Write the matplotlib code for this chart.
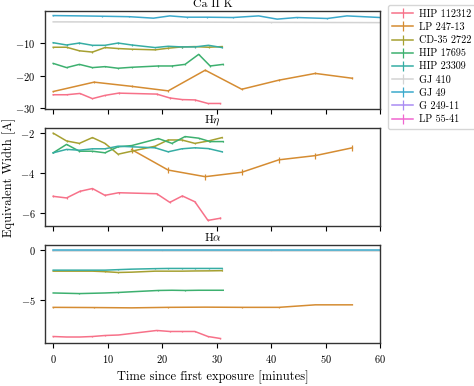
import numpy as np
import matplotlib
matplotlib.use('Agg')
import matplotlib.pyplot as plt

nan = np.nan

stars = ["HIP 112312", "LP 247-13", "CD-35 2722", "HIP 17695", "HIP 23309",
         "GJ 410", "GJ 49", "G 249-11", "LP 55-41"]
colors = ["#f77189", "#d58c32", "#a6a031", "#3db06f", "#36ada4",
          "#d3d3d3", "#3ba9cc", "#a98cf2", "#f066d0"]
lines = ["Ca II K", r"H$\eta$", r"H$\alpha$"]
yticks = [[-30, -20, -10], [-6, -4, -2], [-5, 0]]

# HIP 112312
t_hip112312 = [0, 2.45, 4.9, 7.2, 9.5, 12, 19, 21.4, 23.7, 26, 28.4, 30.7]
cak_hip112312 = [-25.9, -25.9, -25.5, -27.1, -26.1, -25.4, -25.7, -26.9, -27.4, -27.5, -28.6, -28.6]
heta_hip112312 = [-5.15, -5.23, -4.90, -4.76, -5.10, -4.97, -5.02, -5.45, -5.13, -5.42, -6.35, -6.24]
halpha_hip112312 = [-8.6, -8.65, -8.65, -8.6, -8.5, -8.45, -8.0, -8.1, -8.1, -8.1, -8.6, -8.8]

# LP 247-13
t_lp24713 = [0, 7.5, 14.4, 21.1, 27.9, 34.6, 41.4, 48.1, 54.9]
cak_lp24713 = [-24.9, -22.0, -23.3, -24.7, -18.3, -24.2, -21.4, -19.3, -20.8]
heta_lp24713 = [nan, nan, -2.82, -3.84, -4.17, -3.95, -3.33, -3.12, -2.73]
halpha_lp24713 = [-5.7, -5.72, -5.75, -5.7, -5.68, -5.7, -5.7, -5.45, -5.45]

# CD-35 2722
t_cd352722 = [0, 2.45, 4.8, 7.2, 9.5, 11.9, 14.4, 18.7, 21.1, 23.6, 26, 28.5, 31]
cak_cd352722 = [-11.2, -11.2, -12.3, -12.7, -11.3, -11.6, -11.8, -12.0, -11.5, -11.1, -11.0, -11.2, -11.0]
heta_cd352722 = [-2.0, -2.39, -2.51, -2.22, -2.51, -3.05, -2.9, -2.65, -2.34, -2.34, -2.51, -2.39, -2.22]
halpha_cd352722 = [-2.1, -2.1, -2.1, -2.1, -2.15, -2.23, -2.2, -2.1, -2.1, -2.1, -2.08, -2.07, -2.05]

# HIP 17695
t_hip17695 = [0, 2.45, 4.8, 7.2, 9.5, 11.9, 14.4, 19.3, 21.8, 24.2, 26.7, 28.8, 31.2]
cak_hip17695 = [-16.2, -17.5, -16.5, -17.5, -17.2, -17.7, -17.4, -17.0, -17.0, -16.5, -13.4, -17.0, -16.5]
heta_hip17695 = [-2.98, -2.56, -2.9, -2.9, -2.98, -2.68, -2.62, -2.27, -2.51, -2.17, -2.25, -2.42, -2.42]
halpha_hip17695 = [-4.27, -4.3, -4.33, -4.3, -4.27, -4.22, -4.15, -4.02, -4.0, -4.02, -4.0, -4.0, -4.0]

# HIP 23309
t_hip23309 = [0, 2.45, 4.8, 7.2, 9.5, 11.9, 14.4, 18.7, 21.1, 23.6, 26, 28.5, 31]
cak_hip23309 = [-9.8, -10.5, -9.9, -10.6, -10.6, -9.9, -10.5, -11.3, -10.9, -11.1, -11.1, -10.6, -11.3]
heta_hip23309 = [-2.98, -2.81, -2.85, -2.78, -2.78, -2.65, -2.68, -2.73, -2.93, -2.78, -2.73, -2.77, -2.93]
halpha_hip23309 = [-2.0, -2.0, -2.0, -2.0, -2.0, -1.95, -1.9, -1.85, -1.83, -1.83, -1.83, -1.83, -1.83]

# GJ 410
t_gj410 = [0, 20, 40, 64]
cak_gj410 = [-3.35, -3.4, -3.5, -3.6]
heta_gj410 = [nan, nan, nan, nan]
halpha_gj410 = [-0.05, -0.05, -0.05, -0.05]

# GJ 49
t_gj49 = [0, 5, 9, 14, 18.4, 21.4, 24.5, 28.2, 33, 37.7, 41.1, 44.7, 50.3, 53.9, 60, 64]
cak_gj49 = [-1.4, -1.5, -1.6, -1.75, -2.2, -1.5, -1.9, -1.9, -2.0, -1.5, -2.5, -2.0, -2.3, -1.5, -2.0, -2.1]
heta_gj49 = [nan] * 16
halpha_gj49 = [0.0, 0.0, 0.0, 0.0, 0.0, 0.0, 0.0, 0.0, 0.0, 0.0, 0.0, 0.0, 0.0, 0.0, 0.0, 0.0]

# G 249-11 and LP 55-41 have no measurements
t_g24911 = [0]
cak_g24911 = [nan]
heta_g24911 = [nan]
halpha_g24911 = [nan]
t_lp5541 = [0]
cak_lp5541 = [nan]
heta_lp5541 = [nan]
halpha_lp5541 = [nan]

# one error size per star and line
err_cak = [0.2, 0.3, 0.2, 0.2, 0.2, 0.1, 0.1, 0.1, 0.1]
err_heta = [0.05, 0.15, 0.03, 0.03, 0.03, 0.0, 0.0, 0.0, 0.0]
err_halpha = [0.02, 0.02, 0.02, 0.02, 0.02, 0.02, 0.02, 0.02, 0.02]


def draw():
    plt.rcParams['font.family'] = 'serif'
    plt.rcParams['font.serif'] = ['cmr10', 'DejaVu Serif']
    plt.rcParams['mathtext.fontset'] = 'cm'
    plt.rcParams['axes.formatter.use_mathtext'] = True
    plt.rcParams['font.size'] = 8

    times = [t_hip112312, t_lp24713, t_cd352722, t_hip17695, t_hip23309,
             t_gj410, t_gj49, t_g24911, t_lp5541]
    cak = [cak_hip112312, cak_lp24713, cak_cd352722, cak_hip17695, cak_hip23309,
           cak_gj410, cak_gj49, cak_g24911, cak_lp5541]
    heta = [heta_hip112312, heta_lp24713, heta_cd352722, heta_hip17695, heta_hip23309,
            heta_gj410, heta_gj49, heta_g24911, heta_lp5541]
    halpha = [halpha_hip112312, halpha_lp24713, halpha_cd352722, halpha_hip17695,
              halpha_hip23309, halpha_gj410, halpha_gj49, halpha_g24911, halpha_lp5541]
    values = [cak, heta, halpha]
    errors = [err_cak, err_heta, err_halpha]

    fig, axes = plt.subplots(3, 1, sharex=True, figsize=(4.74, 3.86), dpi=100)
    fig.subplots_adjust(left=0.095, right=0.802, top=0.972, bottom=0.111, hspace=0.2)

    handles = []
    for k, ax in enumerate(axes):
        for i, name in enumerate(stars):
            h = ax.errorbar(times[i], values[k][i], yerr=errors[k][i],
                            color=colors[i], lw=1.1, elinewidth=0.9, capsize=0,
                            label=name)
            if k == 0:
                handles.append(h)
        ax.set_title(lines[k], fontsize=8.5, pad=3)
        ax.set_yticks(yticks[k])
        ax.tick_params(direction='out', length=3.5, width=0.8, labelsize=7.5)
        for s in ax.spines.values():
            s.set_color('#333333')
            s.set_linewidth(1.0)

    axes[0].set_xlim(-1.5, 60)
    axes[0].set_xticks([0, 10, 20, 30, 40, 50, 60])
    axes[2].set_xlabel("Time since first exposure [minutes]", fontsize=9)
    axes[1].set_ylabel("Equivalent Width [A]", fontsize=9, labelpad=3)

    leg = fig.legend(handles, stars, loc='upper left', bbox_to_anchor=(0.814, 0.993),
                     fontsize=7.3, frameon=True, handlelength=2.0, handletextpad=0.6,
                     borderpad=0.45, labelspacing=0.36, borderaxespad=0.2)
    leg.get_frame().set_edgecolor('#cccccc')

    fig.savefig('out.png', dpi=100)


draw()
